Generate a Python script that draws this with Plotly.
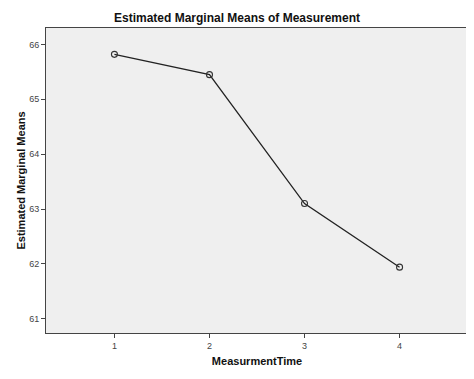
import plotly.graph_objects as go

times = [1, 2, 3, 4]
means = [65.82, 65.45, 63.10, 61.94]
y_ticks = [61, 62, 63, 64, 65, 66]
x_ticks = [1, 2, 3, 4]

# page body has an 8px margin, so the figure is sized to fit the 474x379 window
W, H = 466, 371

fig = go.Figure()
fig.add_trace(go.Scatter(
    x=times, y=means, mode="lines+markers",
    line=dict(color="#222222", width=1.3),
    marker=dict(symbol="circle-open", size=6, color="#333333", line=dict(width=1.1)),
    showlegend=False,
))

axis_common = dict(
    showgrid=False, zeroline=False, showline=True, linecolor="#444444", linewidth=1,
    mirror=True, ticks="outside", ticklen=4, tickcolor="#444444", tickwidth=1,
    automargin=False,
    tickfont=dict(family="Liberation Sans, Arial", size=9, color="#444444"),
)

fig.update_layout(
    width=W, height=H,
    margin=dict(l=38, r=6, t=20, b=46),
    paper_bgcolor="white", plot_bgcolor="#efefef",
    title=dict(text="<b>Estimated Marginal Means of Measurement</b>", x=229 / W, xanchor="center",
               y=1 - 10 / H, yanchor="middle",
               font=dict(family="Liberation Sans, Arial", size=12, color="#111111")),
    xaxis=dict(range=[0.28, 4.72], tickvals=x_ticks, ticktext=[str(v) for v in x_ticks],
               title=dict(text="<b>MeasurmentTime</b>", standoff=7,
                          font=dict(family="Liberation Sans, Arial", size=11, color="#111111")),
               **axis_common),
    yaxis=dict(range=[60.74, 66.3], tickvals=y_ticks, ticktext=[str(v) for v in y_ticks],
               title=dict(text="<b>Estimated Marginal Means</b>", standoff=1,
                          font=dict(family="Liberation Sans, Arial", size=11, color="#111111")),
               **axis_common),
)

fig.write_html("out.html")
